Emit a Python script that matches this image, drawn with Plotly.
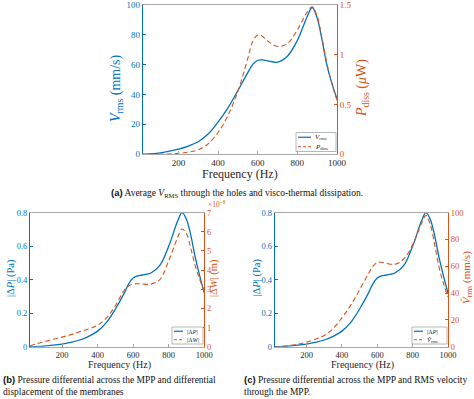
import plotly.graph_objects as go

# ---------------- data ----------------
freq = [20, 50, 100, 150, 200, 250, 300, 350, 400, 450, 500, 550, 575, 600, 625,
        650, 700, 750, 800, 850, 875, 900, 925, 950, 975, 1000]
v_rms = [0, 0.2, 0.8, 1.9, 3.4, 5.5, 8.4, 13.5, 21.5, 31, 42.5, 54.5, 60, 62.8, 63,
         62.3, 61.5, 65.5, 76, 92, 98, 91, 76, 59, 47, 37]                      # mm/s
p_diss = [0, 0, 0.001, 0.003, 0.009, 0.021, 0.045, 0.105, 0.218, 0.39, 0.63, 0.96,
          1.13, 1.195, 1.18, 1.135, 1.08, 1.11, 1.245, 1.425, 1.478, 1.38, 1.155,
          0.9, 0.705, 0.54]                                                        # uW
delta_p = [0, 0.001, 0.004, 0.009, 0.016, 0.026, 0.04, 0.062, 0.093, 0.145, 0.225,
           0.32, 0.375, 0.41, 0.423, 0.428, 0.44, 0.485, 0.6, 0.75, 0.8, 0.76, 0.66,
           0.53, 0.42, 0.32]                                                       # Pa
delta_w_e8 = [0.05, 0.13, 0.26, 0.38, 0.5, 0.63, 0.78, 0.93, 1.12, 1.5, 2.15, 2.95,
              3.18, 3.27, 3.29, 3.28, 3.27, 3.5, 4.5, 5.7, 6.15, 5.9, 5.1, 4.2, 3.5,
              2.9]                                                                 # x1e-8 m

freq_ticks = [200, 400, 600, 800, 1000]

BLUE = "#0072BD"
ORANGE = "#D95319"
GRAY = "#A8A8A8"
TXT = "#262626"
SERIF = "Liberation Serif"
W, H = 474, 399


def px(x):
    return x / W


def py(y):
    return 1 - y / H


fig = go.Figure()

solid = dict(color=BLUE, width=1.3, shape="spline", smoothing=1.0)
dashed = dict(color=ORANGE, width=1.1, dash="5px,3px", shape="spline", smoothing=1.0)

fig.add_trace(go.Scatter(x=freq, y=v_rms, mode="lines", line=solid, name="V_rms", xaxis="x", yaxis="y"))
fig.add_trace(go.Scatter(x=freq, y=p_diss, mode="lines", line=dashed, name="P_diss", xaxis="x", yaxis="y2"))
fig.add_trace(go.Scatter(x=freq, y=delta_p, mode="lines", line=solid, name="|ΔP|", xaxis="x2", yaxis="y3"))
fig.add_trace(go.Scatter(x=freq, y=delta_w_e8, mode="lines", line=dashed, name="|ΔW|", xaxis="x2", yaxis="y4"))
fig.add_trace(go.Scatter(x=freq, y=delta_p, mode="lines", line=solid, name="|ΔP|", xaxis="x3", yaxis="y5"))
fig.add_trace(go.Scatter(x=freq, y=v_rms, mode="lines", line=dashed, name="V̂_rms", xaxis="x3", yaxis="y6"))


def xax(domain, anchor, tsize):
    return dict(domain=domain, anchor=anchor, range=[20, 1000], tickvals=freq_ticks,
                showline=True, linecolor=GRAY, linewidth=1, mirror=True,
                ticks="inside", ticklen=3, tickcolor=GRAY, showgrid=False, zeroline=False,
                automargin=False, ticklabeloverflow="allow",
                tickfont=dict(family=SERIF, size=tsize, color=TXT))


def yax(domain, anchor, rng, dtick, color, tsize, side="left", overlay=None):
    d = dict(domain=domain, anchor=anchor, range=rng, dtick=dtick, side=side,
             showline=True, linecolor=color, linewidth=1,
             ticks="inside", ticklen=3, tickcolor=color, showgrid=False, zeroline=False,
             automargin=False, ticklabeloverflow="allow",
             tickfont=dict(family=SERIF, size=tsize, color=color))
    if overlay:
        d["overlaying"] = overlay
    return d


top_y = [py(154.3), py(4.5)]
bot_y = [py(346.7), py(212.7)]

fig.update_layout(
    width=W, height=H, margin=dict(l=0, r=0, t=0, b=0, autoexpand=False),
    paper_bgcolor="white", plot_bgcolor="white", showlegend=False,
    xaxis=xax([px(142.7), px(337)], "y", 9),
    yaxis=yax(top_y, "x", [0, 100], 20, BLUE, 9),
    yaxis2=yax(top_y, "x", [0, 1.5], 0.5, ORANGE, 9, side="right", overlay="y"),
    xaxis2=xax([px(30), px(204.3)], "y3", 8.5),
    yaxis3=yax(bot_y, "x2", [0, 0.8], 0.2, BLUE, 8.5),
    yaxis4=yax(bot_y, "x2", [0, 7], 1, ORANGE, 8.5, side="right", overlay="y3"),
    xaxis3=xax([px(274.7), px(448)], "y5", 8.5),
    yaxis5=yax(bot_y, "x3", [0, 0.8], 0.2, BLUE, 8.5),
    yaxis6=yax(bot_y, "x3", [0, 100], 20, ORANGE, 8.5, side="right", overlay="y5"),
)


def label(x, y, text, size, color, angle=0, xanchor="center", yanchor="middle", family=SERIF, align="center"):
    fig.add_annotation(x=px(x), y=py(y), xref="paper", yref="paper", showarrow=False,
                       text=text, textangle=angle, xanchor=xanchor, yanchor=yanchor, align=align,
                       font=dict(family=family, size=size, color=color))


# axis titles
label(116, 88, "<i>V</i><sub>rms</sub> (mm/s)", 14, BLUE, angle=-90)
label(362, 88, "<i>P</i><sub>diss</sub> (<i>μ</i>W)", 14, ORANGE, angle=-90)
label(240, 173.5, "Frequency (Hz)", 12, TXT)

label(11, 278, "|Δ<i>P</i>| (Pa)", 10.5, BLUE, angle=-90)
label(214, 278, "|Δ<i>W</i>| (m)", 10.5, ORANGE, angle=-90)
label(119, 365, "Frequency (Hz)", 10, TXT)

label(256.5, 278, "|Δ<i>P</i>| (Pa)", 10.5, BLUE, angle=-90)
label(467, 278, "<i>V̂</i><sub>rms</sub> (mm/s)", 11, ORANGE, angle=-90)
label(362, 365, "Frequency (Hz)", 10, TXT)

# exponent label of the |dW| axis
label(206, 211, "×10<sup>−8</sup>", 7.5, ORANGE, xanchor="left", yanchor="bottom")


# legends (box, line samples, labels)
def legend(x0, x1, y0, y1, rows, sample_len, fsize):
    fig.add_shape(type="rect", xref="paper", yref="paper", x0=px(x0), x1=px(x1), y0=py(y1), y1=py(y0),
                  line=dict(color="#9a9a9a", width=0.7), fillcolor="white", layer="above")
    n = len(rows)
    step = (y1 - y0) / n
    for i, (txt, style) in enumerate(rows):
        yy = y0 + step * (i + 0.5)
        fig.add_shape(type="line", xref="paper", yref="paper",
                      x0=px(x0 + 2), x1=px(x0 + 2 + sample_len), y0=py(yy), y1=py(yy),
                      line=dict(color=style["color"], width=style["width"], dash=style.get("dash", "solid")),
                      layer="above")
        label(x0 + 4 + sample_len, yy, txt, fsize, TXT, xanchor="left")


ls = dict(color=BLUE, width=1.2)
ld = dict(color=ORANGE, width=1.1, dash="3px,2px")
legend(296, 336, 132.5, 151.5, [("<i>V</i><sub>rms</sub>", ls), ("<i>P</i><sub>diss</sub>", ld)], 13, 7)
legend(172, 203, 327, 344, [("|Δ<i>P</i>|", ls), ("|Δ<i>W</i>|", ld)], 9, 6.5)
legend(412, 447, 327, 344, [("|Δ<i>P</i>|", ls), ("<i>V̂</i><sub>rms</sub>", ld)], 9, 6.5)

# captions
cap = 9.5
B = "<span style='font-family:Liberation Sans'><b>%s</b></span> "
label(237, 193, B % "(a)" + "Average <i>V</i><sub>RMS</sub> through the holes and visco-thermal dissipation.", cap, "#111")
label(1, 385.5, B % "(b)" + "Pressure differential across the MPP and differential<br>displacement of the membranes",
      cap, "#111", xanchor="left", align="left")
label(242, 385.5, B % "(c)" + "Pressure differential across the MPP and RMS velocity<br>through the MPP.",
      cap, "#111", xanchor="left", align="left")

fig.write_html("out.html", config={"displayModeBar": False},
               post_script="document.body.style.margin='0';document.body.style.overflow='hidden';")
